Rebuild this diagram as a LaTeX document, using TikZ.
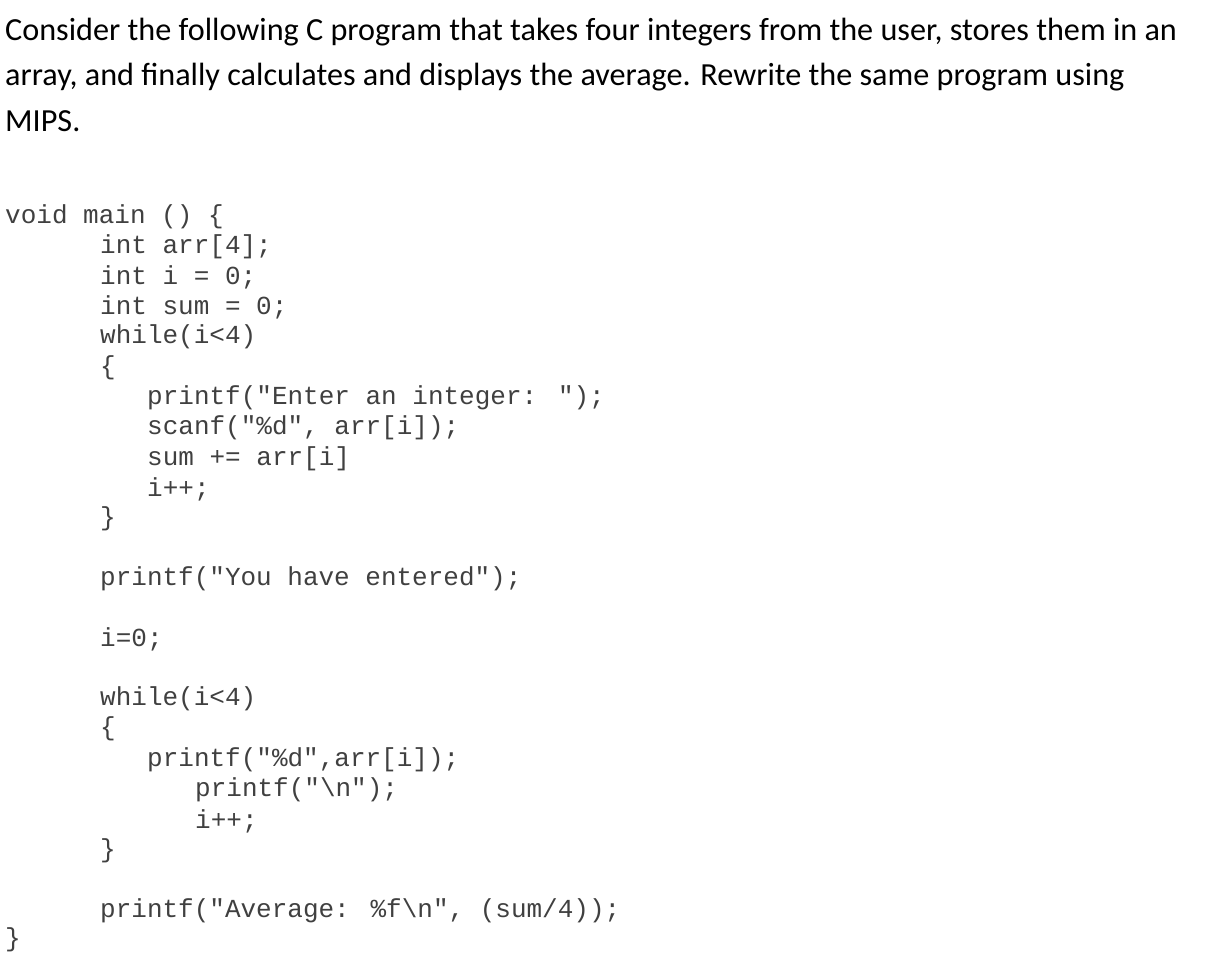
\documentclass[tikz,border=0pt]{standalone}
\usepackage{fontspec}
\setmainfont{Carlito}
\newfontfamily\codefont{Liberation Mono}
\begin{document}
\begin{tikzpicture}[x=1pt,y=-1pt,
  head/.style={anchor=west,inner sep=0pt,font=\fontsize{32.2}{38}\selectfont},
  code/.style={anchor=west,inner sep=0pt,text=black!75,font=\codefont\fontsize{26}{30}\selectfont}]
\useasboundingbox[fill=white] (0,0) rectangle (1208,972);
\node[head] (h1) at (5,32) {Consider the following C program that takes four integers from the user, stores them in an};
\node[head] (h2) at (5,77) {array, and finally calculates and displays the average. Rewrite the same program using};
\node[head] (h3) at (5,121) {MIPS.};
\node[code] (c1) at (5,217) {void main () \{};
\node[code] (c2) at (100,247) {int arr[4];};
\node[code] (c3) at (100,277) {int i = 0;};
\node[code] (c4) at (100,307) {int sum = 0;};
\node[code] (c5) at (100,337) {while(i<4)};
\node[code] (c6) at (100,368) {\{};
\node[code] (c7) at (147,398) {printf("Enter an integer: ");};
\node[code] (c8) at (147,428) {scanf("\%d", arr[i]);};
\node[code] (c9) at (147,459) {sum += arr[i]};
\node[code] (c10) at (147,489) {i++;};
\node[code] (c11) at (100,519) {\}};
\node[code] (c12) at (100,579) {printf("You have entered");};
\node[code] (c13) at (100,639) {i=0;};
\node[code] (c14) at (100,699) {while(i<4)};
\node[code] (c15) at (100,729) {\{};
\node[code] (c16) at (147,760) {printf("\%d",arr[i]);};
\node[code] (c17) at (195,790) {printf("\textbackslash n");};
\node[code] (c18) at (195,821) {i++;};
\node[code] (c19) at (100,851) {\}};
\node[code] (c20) at (100,911) {printf("Average: \%f\textbackslash n", (sum/4));};
\node[code] (c21) at (5,940) {\}};
\end{tikzpicture}
\end{document}
